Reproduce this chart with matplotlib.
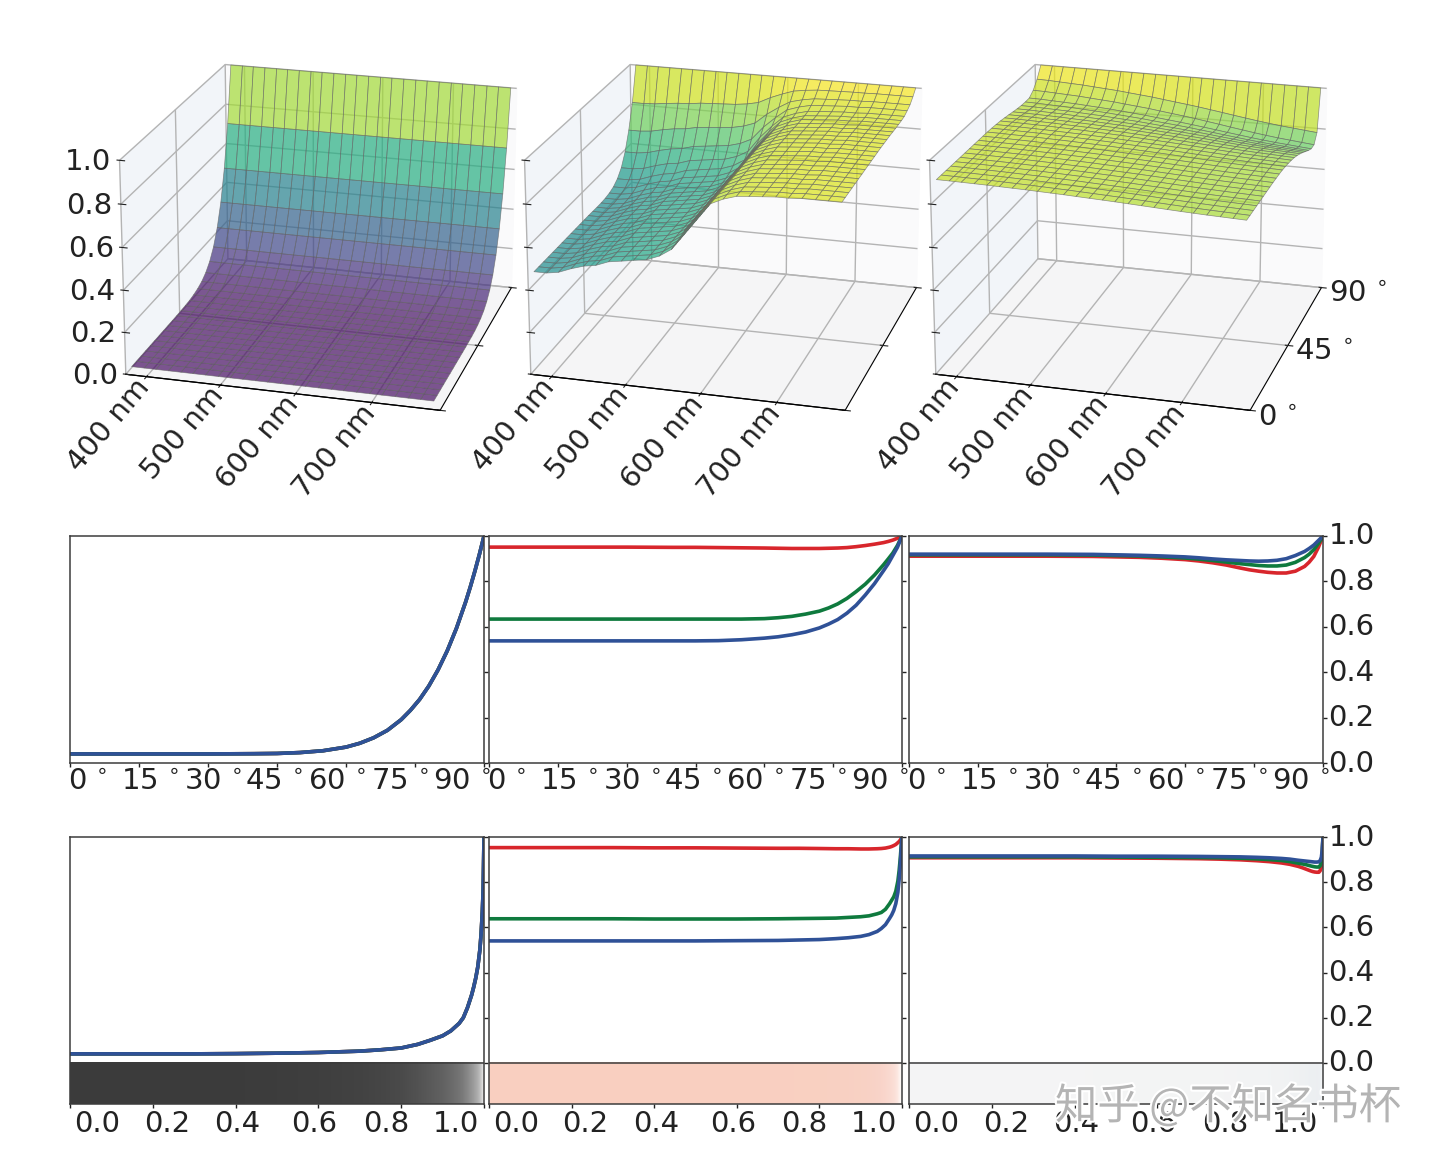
import numpy as np
import matplotlib
matplotlib.use('Agg')
import matplotlib.pyplot as plt
import matplotlib.patheffects as pe
from matplotlib.transforms import ScaledTranslation

plt.rcParams['font.family'] = ['DejaVu Sans']
plt.rcParams['text.color'] = '#222222'
plt.rcParams['xtick.color'] = '#222222'
plt.rcParams['ytick.color'] = '#222222'

# angle curves (row 2)
angles = [0, 10, 20, 30, 40, 45, 50, 55, 60, 63, 66, 69, 72, 74, 76, 78, 80, 82, 84, 86, 87, 88, 89, 90]
a_dielectric = [.04, .04, .04, .04, .041, .042, .046, .054, .07, .087, .111, .144, .191, .232, .28, .339, .41, .494, .593, .709, .774, .844, .919, 1]
a_cu_r = [.951, .951, .951, .951, .95, .95, .949, .948, .947, .946, .945, .945, .945, .946, .947, .949, .953, .958, .964, .971, .976, .982, .99, 1]
a_cu_g = [.634, .634, .634, .634, .634, .634, .634, .634, .636, .64, .646, .656, .669, .683, .701, .725, .755, .788, .828, .874, .899, .925, .958, 1]
a_cu_b = [.538, .538, .538, .538, .538, .538, .539, .543, .55, .556, .565, .577, .595, .612, .632, .66, .695, .74, .79, .848, .878, .914, .95, 1]
a_ag_r = [.911, .911, .911, .911, .91, .908, .906, .902, .896, .89, .882, .872, .859, .851, .845, .84, .837, .837, .845, .866, .885, .91, .95, 1]
a_ag_g = [.917, .917, .917, .917, .916, .914, .912, .908, .903, .898, .892, .885, .878, .874, .87, .868, .868, .872, .884, .905, .92, .94, .967, 1]
a_ag_b = [.92, .92, .92, .92, .919, .917, .915, .912, .908, .904, .899, .895, .892, .89, .889, .89, .893, .9, .914, .932, .945, .96, .98, 1]

# roughness-like curves (row 3)
rough = [0, .1, .2, .3, .4, .5, .6, .7, .75, .8, .84, .87, .9, .92, .94, .95, .96, .97, .975, .98, .985, .99, .993, .996, .998, 1]
r_dielectric = [.04, .04, .04, .04, .041, .043, .046, .052, .058, .066, .082, .1, .12, .142, .175, .2, .244, .3, .335, .375, .425, .5, .57, .67, .77, 1]
r_cu_r = [.953, .953, .953, .953, .952, .952, .951, .95, .95, .949, .948, .948, .947, .947, .948, .949, .951, .955, .958, .962, .967, .975, .98, .987, .993, 1]
r_cu_g = [.638, .638, .638, .638, .637, .637, .637, .638, .639, .64, .641, .644, .647, .651, .66, .666, .68, .705, .72, .735, .76, .805, .85, .91, .96, 1]
r_cu_b = [.54, .54, .54, .54, .54, .54, .541, .542, .544, .546, .55, .554, .56, .568, .582, .595, .612, .64, .655, .675, .705, .755, .81, .885, .945, 1]
r_ag_r = [.908, .908, .908, .908, .908, .907, .906, .904, .902, .899, .895, .891, .885, .879, .87, .864, .857, .85, .847, .845, .844, .844, .85, .87, .91, 1]
r_ag_g = [.912, .912, .912, .912, .912, .911, .91, .909, .908, .906, .903, .9, .896, .891, .884, .881, .877, .872, .87, .868, .867, .867, .872, .89, .925, 1]
r_ag_b = [.916, .916, .916, .916, .916, .915, .915, .914, .913, .912, .91, .908, .905, .902, .897, .895, .893, .891, .89, .889, .889, .89, .895, .91, .94, 1]

# surfaces: profile along the angle at the 380 nm and 780 nm ends, and where each wavelength sits between them
wavelengths = [380, 397, 413, 430, 447, 463, 480, 497, 513, 530, 547, 563, 580, 597, 613, 630, 647, 663, 680, 697, 713, 730, 747, 763, 780]
surf_angles = [0, 3.75, 7.5, 11.25, 15, 18.75, 22.5, 26.25, 30, 33.75, 37.5, 41.25, 45, 48.75, 52.5, 56.25, 60, 63.75, 67.5, 71.25, 75, 78.75, 82.5, 86.25, 90]
s1_short = [.04, .04, .04, .04, .04, .04, .04, .04, .04, .04, .04, .041, .042, .044, .049, .057, .07, .092, .126, .178, .255, .364, .517, .724, 1]
s1_long = s1_short
s1_mix = [0] * 25
s2_short = [.49, .49, .49, .49, .49, .49, .49, .49, .49, .49, .49, .49, .49, .489, .488, .488, .49, .495, .505, .525, .56, .62, .71, .83, 1]
s2_long = [.945, .945, .945, .945, .945, .945, .945, .945, .945, .945, .945, .945, .945, .944, .943, .942, .94, .938, .937, .936, .937, .945, .955, .975, 1]
s2_mix = [0, 0, .02, .07, .11, .13, .18, .2, .22, .24, .29, .37, .57, .73, .86, .92, .96, .97, .98, .99, .99, 1, 1, 1, 1]
s3_short = [.915, .915, .915, .915, .915, .915, .915, .915, .915, .915, .915, .915, .914, .912, .91, .906, .902, .897, .893, .89, .889, .89, .91, .947, 1]
s3_long = [.865, .865, .865, .865, .865, .865, .865, .865, .865, .864, .863, .861, .857, .852, .846, .838, .828, .816, .802, .787, .772, .76, .76, .80, 1]
s3_mix = [0, .01, .03, .05, .07, .1, .13, .16, .2, .24, .28, .33, .38, .43, .48, .54, .6, .66, .72, .78, .83, .88, .92, .96, 1]

wl_ticks = [400, 500, 600, 700]
wl_labels = ['400 nm', '500 nm', '600 nm', '700 nm']
z_ticks = [0, .2, .4, .6, .8, 1]
z_labels = ['0.0', '0.2', '0.4', '0.6', '0.8', '1.0']
angle_ticks = [0, 15, 30, 45, 60, 75, 90]
rough_ticks = [0, .2, .4, .6, .8, 1]

W, H = 1440, 1167
FS = 21
RED, GREEN, BLUE = '#d8262c', '#0f7a3e', '#2f5197'
fig = plt.figure(figsize=(W / 100, H / 100), dpi=100)


def box(x0, y0, x1, y1, **kw):
    # pixel box to figure fractions
    return fig.add_axes([x0 / W, 1 - y1 / H, (x1 - x0) / W, (y1 - y0) / H], **kw)


def deg(a):
    return f'{a}$\\,^\\circ$'


# top row, 3d surfaces
surfaces = [(s1_short, s1_long, s1_mix), (s2_short, s2_long, s2_mix), (s3_short, s3_long, s3_mix)]
for i, (short, long_, mix) in enumerate(surfaces):
    off = 405 * i
    ax = box(55 + off, -6, 585 + off, 474, projection='3d', facecolor='none')
    mix = np.array(mix)
    Z = np.outer(np.array(short), 1 - mix) + np.outer(np.array(long_), mix)
    X, Y = np.meshgrid(wavelengths, surf_angles)
    ax.plot_surface(X, Y, Z, cmap='viridis', vmin=0, vmax=1, alpha=.7, rstride=1, cstride=1,
                    edgecolor='#666666', linewidth=.5)
    ax.view_init(elev=20.3, azim=-74.3)
    ax.set_box_aspect((4.5, 4.67, 3.15), zoom=1.018)
    ax.set_xlim(371.7, 788.3)
    ax.set_ylim(0, 90)
    ax.set_zlim(0, 1)
    ax.xaxis.set_pane_color((.95, .96, .975, 1))
    ax.yaxis.set_pane_color((.98, .98, .985, 1))
    ax.zaxis.set_pane_color((.96, .96, .965, 1))
    ax.zaxis._axinfo['juggled'] = (1, 0, 2)
    for a in (ax.xaxis, ax.yaxis, ax.zaxis):
        a._axinfo['grid']['linewidth'] = 1
        a._axinfo['grid']['color'] = '#b4b4b4'
    ax.set_xticks(wl_ticks)
    ax.set_xticklabels(wl_labels, rotation=50, ha='right', va='center', rotation_mode='anchor', fontsize=FS)
    ax.set_yticks([0, 45, 90])
    ax.set_zticks(z_ticks)
    ax.tick_params(axis='x', pad=-5)
    ax.tick_params(axis='z', pad=-4.5)
    ax.tick_params(axis='y', pad=-3.5)
    if i == 2:
        ax.set_yticklabels([deg(0), deg(45), deg(90)], fontsize=FS, ha='left', va='center')
    else:
        ax.set_yticklabels([])
    if i == 0:
        ax.set_zticklabels(z_labels, fontsize=FS, ha='right', va='center')
    else:
        ax.set_zticklabels([])


def style(ax, show_y):
    for s in ax.spines.values():
        s.set_color('#3c3c3c')
        s.set_linewidth(1.1)
    ax.yaxis.tick_right()
    ax.set_yticks(z_ticks)
    ax.tick_params(axis='x', length=3, width=1, labelsize=FS, pad=2)
    ax.tick_params(axis='y', length=3, width=1, labelsize=FS, pad=1)
    if show_y:
        ax.set_yticklabels(z_labels)
        for lab in ax.get_yticklabels():
            lab.set_transform(lab.get_transform() + ScaledTranslation(0, 2.5 / 100, fig.dpi_scale_trans))
    else:
        ax.set_yticklabels([])


def shift_labels(ax, shifts, up):
    for lab, dx in zip(ax.get_xticklabels(), shifts):
        lab.set_horizontalalignment('left')
        lab.set_transform(lab.get_transform() + ScaledTranslation(dx / 100, up / 100, fig.dpi_scale_trans))


panel_x = [(70, 484), (489, 902), (909, 1323)]

# middle row
angle_curves = [(a_dielectric, a_dielectric, a_dielectric), (a_cu_r, a_cu_g, a_cu_b), (a_ag_r, a_ag_g, a_ag_b)]
angle_labels = [deg(a) for a in angle_ticks]
for i, (px, curves) in enumerate(zip(panel_x, angle_curves)):
    ax = box(px[0], 536, px[1], 763)
    for c, col in zip(curves, (RED, GREEN, BLUE)):
        ax.plot(angles, c, color=col, lw=2.6)
    ax.set_xlim(0, 90)
    ax.set_ylim(0, 1)
    style(ax, i == 2)
    ax.set_xticks(angle_ticks)
    ax.set_xticklabels(angle_labels)
    shift_labels(ax, [-2, -18, -24, -32, -38, -44, -51], 3)

# bottom row with colour strip
rough_curves = [(r_dielectric, r_dielectric, r_dielectric), (r_cu_r, r_cu_g, r_cu_b), (r_ag_r, r_ag_g, r_ag_b)]
strip_x = np.linspace(0, 1, 500)
for i, (px, curves) in enumerate(zip(panel_x, rough_curves)):
    ax = box(px[0], 837, px[1], 1104)
    for c, col in zip(curves, (RED, GREEN, BLUE)):
        ax.plot(rough, c, color=col, lw=2.6)
    strip = np.stack([np.interp(strip_x, rough, c) for c in curves], axis=-1)[None, :, :] ** (1 / 2.2)
    ax.imshow(strip, extent=(0, 1, -.182, 0), aspect='auto', interpolation='bilinear')
    ax.axhline(0, color='#3c3c3c', lw=1.1)
    ax.set_xlim(0, 1)
    ax.set_ylim(-.182, 1)
    style(ax, i == 2)
    ax.set_xticks(rough_ticks)
    ax.set_xticklabels(z_labels)
    shift_labels(ax, [4, -9, -21, -27, -38, -51], 1)

# watermark
fig.text(1055 / W, 1 - 1107 / H, '知乎 @不知名书杯', family=['Noto Sans CJK SC', 'DejaVu Sans'], fontsize=30.5,
         color='#b4b4b4', va='center', ha='left', zorder=20,
         path_effects=[pe.withStroke(linewidth=3, foreground='white')])

fig.savefig('out.png', dpi=100)
